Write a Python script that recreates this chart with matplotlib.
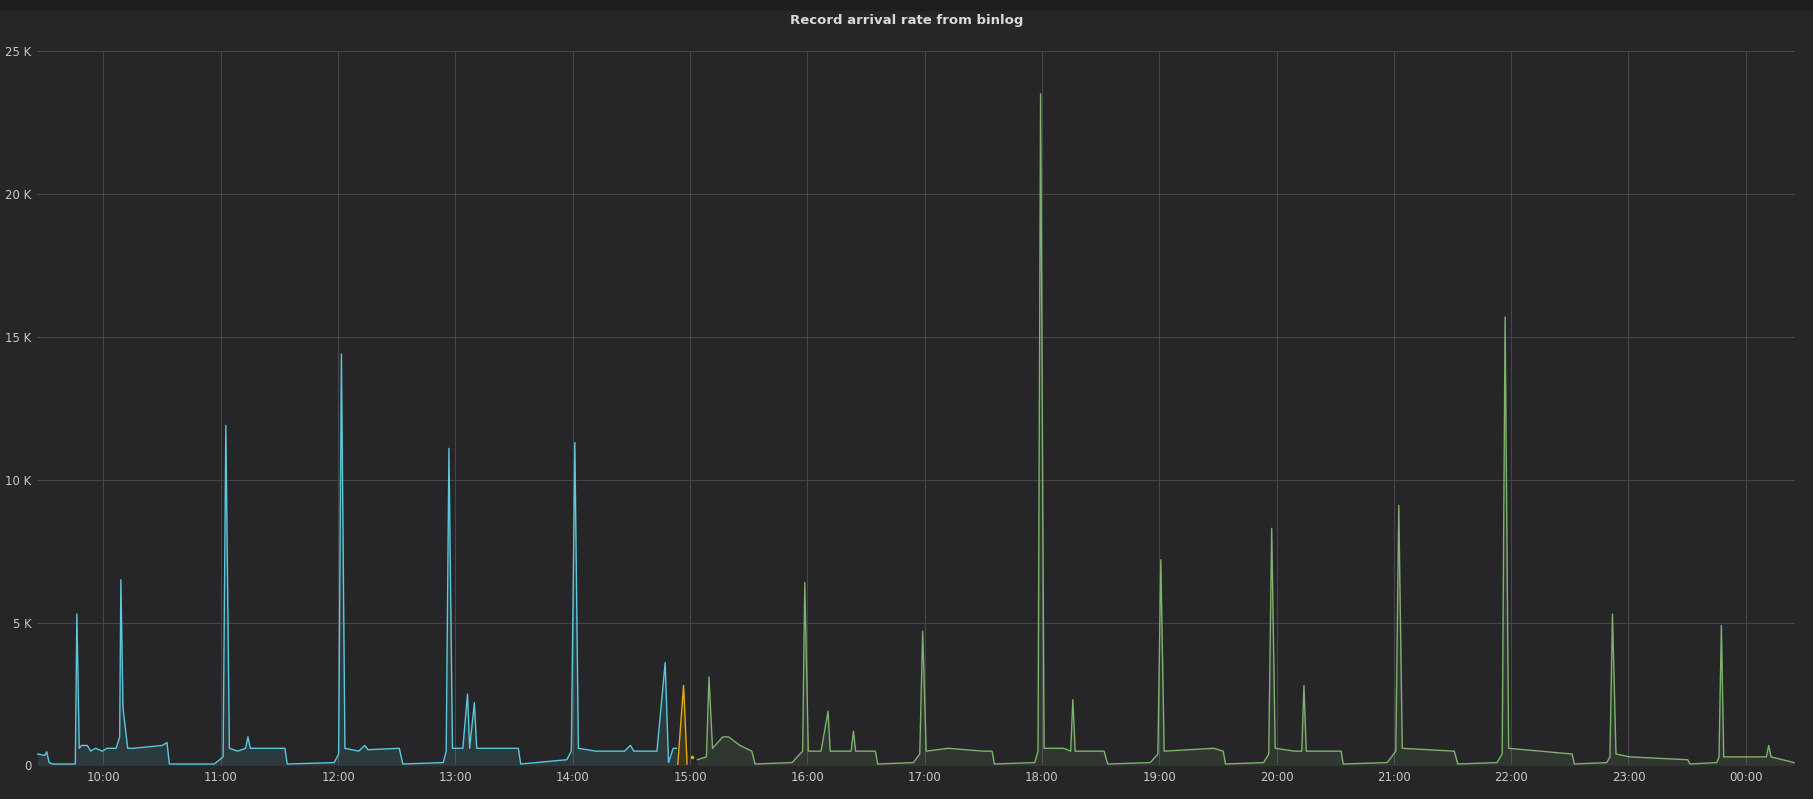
import matplotlib
matplotlib.use("Agg")
import matplotlib.pyplot as plt
from matplotlib.ticker import FixedLocator, FuncFormatter

# times in minutes since 00:00 of first day
cyan_t = [566.3,569.9,571.0,572.2,574.0,585.6,586.4,587.6,588.8,591.7,593.5,595.9,599.4,601.8,606.5,608.3,608.9,610.0,612.4,615.4,630.1,632.5,633.7,656.7,661.2,662.6,664.4,668.6,672.7,673.9,675.1,683.3,692.8,694.0,718.0,720.3,721.7,723.5,730.6,733.6,735.3,751.3,753.1,773.8,775.3,776.7,778.5,783.8,786.2,787.3,789.7,790.9,812.2,813.4,837.0,839.3,841.1,842.9,851.8,866.5,869.5,871.3,883.1,887.3,889.0,891.4,893.1]
cyan_v = [400,350,480,100,50,50,5300,600,700,700,500,600,500,600,600,1000,6500,2000,600,600,700,800,50,50,300,11900,600,500,600,1000,600,600,600,50,100,400,14400,600,500,700,550,600,50,100,500,11100,600,600,2500,600,2200,600,600,50,200,500,11300,600,500,500,700,500,500,3600,100,600,600]
orange_t = [893.7,896.7,898.5]
orange_v = [0,2800,50]
dot_t = [900.8]
dot_v = [300]
green_t = [903.8,908.4,909.7,911.5,916.8,919.7,925.6,931.6,933.3,952.2,957.6,958.7,960.5,967.0,970.6,971.7,982.4,983.6,984.7,994.8,996.0,1014.3,1017.5,1019.0,1020.8,1032.0,1049.8,1054.5,1055.7,1076.3,1078.0,1079.3,1081.1,1091.1,1094.7,1095.8,1097.0,1111.8,1113.6,1135.4,1139.3,1140.8,1142.5,1167.9,1172.7,1173.9,1193.4,1196.0,1197.5,1199.3,1209.3,1212.9,1214.0,1215.2,1233.0,1234.1,1256.6,1261.0,1262.5,1264.3,1290.9,1292.7,1312.7,1315.4,1316.9,1318.7,1351.2,1352.3,1368.9,1370.5,1371.8,1373.6,1380.7,1410.3,1411.5,1425.1,1426.3,1427.5,1428.7,1434.0,1450.5,1451.7,1452.9,1464.7]
green_v = [200,300,3100,600,1000,1000,700,500,50,100,500,6400,500,500,1900,500,500,1200,500,500,50,100,400,4700,500,600,500,500,50,100,500,23500,600,600,500,2300,500,500,50,100,400,7200,500,600,500,50,100,400,8300,600,500,500,2800,500,500,50,100,500,9100,600,500,50,100,400,15700,600,400,50,100,300,5300,400,300,200,50,100,300,4900,300,300,300,700,300,100]
x_ticks = [600,660,720,780,840,900,960,1020,1080,1140,1200,1260,1320,1380,1440]
y_ticks = [0,5000,10000,15000,20000,25000]
y_labels = ["0","5 K","10 K","15 K","20 K","25 K"]

BG = "#262628"
fig = plt.figure(figsize=(18.13,7.99), dpi=100, facecolor=BG)
fig.add_artist(plt.Rectangle((0,0.988),1,0.012,transform=fig.transFigure,color="#1e1e20",zorder=0))
ax = fig.add_axes([0.0204,0.042,0.9695,0.894])
ax.set_facecolor(BG)
series = [(cyan_t,cyan_v,"#5bc8dc"),(orange_t,orange_v,"#e5ac0e"),(green_t,green_v,"#7eb26d")]
for t,v,c in series:
    ax.plot(t,v,color=c,lw=1.0,zorder=3)
    ax.fill_between(t,v,0,color=c,alpha=0.12,lw=0,zorder=2)
ax.plot(dot_t,dot_v,"o",color="#e5ac0e",ms=1.5,zorder=3)
ax.set_xlim(566,1465)
ax.set_ylim(0,25000)
ax.xaxis.set_major_locator(FixedLocator(x_ticks))
ax.xaxis.set_major_formatter(FuncFormatter(lambda m,p: "%02d:%02d" % ((int(m)//60)%24, int(m)%60)))
ax.set_yticks(y_ticks)
ax.set_yticklabels(y_labels)
ax.grid(True,color="#464648",lw=0.8,zorder=0)
ax.tick_params(colors="#c8c8c8",labelsize=8.5,length=0,pad=4)
for s in ax.spines.values():
    s.set_visible(False)
fig.text(0.5,0.974,"Record arrival rate from binlog",color="#d8d9da",fontsize=9.5,fontweight="bold",ha="center",va="center")
fig.savefig("out.png",dpi=100,facecolor=BG)
